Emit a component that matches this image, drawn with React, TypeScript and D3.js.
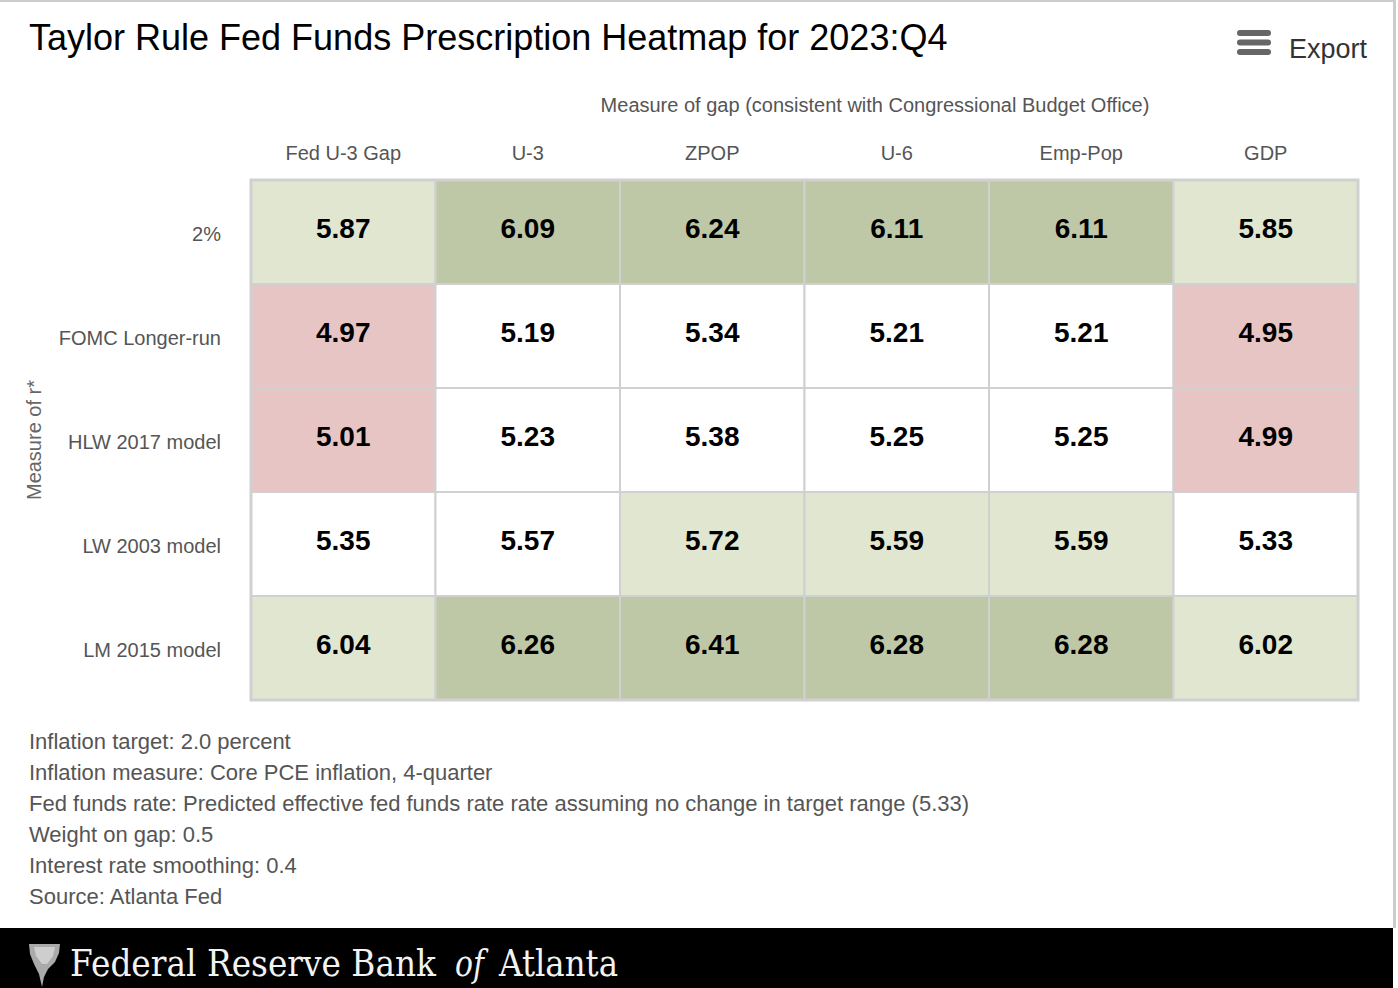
import React from "react";
import * as d3 from "d3";

const gapMeasures = ["Fed U-3 Gap", "U-3", "ZPOP", "U-6", "Emp-Pop", "GDP"];
const rStarMeasures = ["2%", "FOMC Longer-run", "HLW 2017 model", "LW 2003 model", "LM 2015 model"];
const values: number[][] = [
  [5.87, 6.09, 6.24, 6.11, 6.11, 5.85],
  [4.97, 5.19, 5.34, 5.21, 5.21, 4.95],
  [5.01, 5.23, 5.38, 5.25, 5.25, 4.99],
  [5.35, 5.57, 5.72, 5.59, 5.59, 5.33],
  [6.04, 6.26, 6.41, 6.28, 6.28, 6.02],
];
const colorBreaks = [5.08, 5.58, 6.08];
const colorBins = ["#e8c5c5", "#ffffff", "#e1e6d1", "#bfc8a6"];
const notes = [
  "Inflation target: 2.0 percent",
  "Inflation measure: Core PCE inflation, 4-quarter",
  "Fed funds rate: Predicted effective fed funds rate rate assuming no change in target range (5.33)",
  "Weight on gap: 0.5",
  "Interest rate smoothing: 0.4",
  "Source: Atlanta Fed",
];

const W = 1398;
const H = 988;
const font = "'Liberation Sans', Arial, Helvetica, sans-serif";
const serif = "'DejaVu Serif', 'Liberation Serif', serif";

export default function App() {
  const x = d3.scaleBand<string>().domain(gapMeasures).range([251, 1358]).padding(0);
  const y = d3.scaleBand<string>().domain(rStarMeasures).range([180, 700]).padding(0);
  const color = d3.scaleThreshold<number, string>().domain(colorBreaks).range(colorBins);

  return (
    <svg width={W} height={H} style={{ position: "absolute", left: 0, top: 0 }} fontFamily={font}>
      <rect x={0} y={0} width={W} height={H} fill="#fff" />
      {/* container border */}
      <line x1={0} x2={1395} y1={1} y2={1} stroke="#ccc" strokeWidth={2} />
      <line x1={1394.5} x2={1394.5} y1={0} y2={928} stroke="#ccc" strokeWidth={3} />

      <text x={29} y={50} fontSize={36} fill="#000">
        Taylor Rule Fed Funds Prescription Heatmap for 2023:Q4
      </text>

      {/* export */}
      <g fill="#666">
        {[0, 1, 2].map((i) => (
          <rect key={i} x={1237} y={30 + i * 9.5} width={34} height={6} rx={3} />
        ))}
      </g>
      <text x={1289} y={58} fontSize={27} fill="#333">Export</text>

      <text x={875} y={112} fontSize={20} fill="#555" textAnchor="middle">
        Measure of gap (consistent with Congressional Budget Office)
      </text>

      {gapMeasures.map((g) => (
        <text key={g} x={(x(g) as number) + x.bandwidth() / 2} y={160} fontSize={20} fill="#555" textAnchor="middle">
          {g}
        </text>
      ))}

      {rStarMeasures.map((r) => (
        <text key={r} x={221} y={(y(r) as number) + y.bandwidth() / 2 + 9} fontSize={20} fill="#555" textAnchor="end">
          {r}
        </text>
      ))}

      <text transform="translate(41,440) rotate(-90)" fontSize={20} fill="#666" textAnchor="middle">
        Measure of r*
      </text>

      {/* cells */}
      <g>
        {values.map((row, ri) =>
          row.map((v, ci) => {
            const cx = x(gapMeasures[ci]) as number;
            const cy = y(rStarMeasures[ri]) as number;
            return (
              <g key={`${ri}-${ci}`}>
                <rect x={cx} y={cy} width={x.bandwidth()} height={y.bandwidth()} fill={color(v)} stroke="#d0d0d0" strokeWidth={2} />
                <text
                  x={cx + x.bandwidth() / 2}
                  y={cy + y.bandwidth() / 2 + 6}
                  fontSize={28}
                  fontWeight="bold"
                  fill="#000"
                  textAnchor="middle"
                >
                  {v.toFixed(2)}
                </text>
              </g>
            );
          })
        )}
        <rect x={251} y={180} width={1107} height={520} fill="none" stroke="#d0d0d0" strokeWidth={3} />
      </g>

      {notes.map((n, i) => (
        <text key={i} x={29} y={749 + i * 31} fontSize={22} fill="#555">
          {n}
        </text>
      ))}

      {/* footer */}
      <rect x={0} y={928} width={1393} height={60} fill="#000" />
      <g transform="translate(29,944)">
        <path d="M0,0 L31,0 L30,9 L26,18 L19,25 L15,33 L13,43 L10,30 L5,20 L1,10 Z" fill="#aaa" />
        <path d="M5,3 L26,3 L24,12 L18,20 L13,20 L7,12 Z" fill="#ddd" opacity={0.7} />
      </g>
      <text x={70} y={976} fontSize={37} fill="#f2f2f2" fontFamily={serif} textLength={366} lengthAdjust="spacingAndGlyphs">
        Federal Reserve Bank
      </text>
      <text x={455} y={976} fontSize={37} fill="#f2f2f2" fontFamily={serif} fontStyle="italic" textLength={29} lengthAdjust="spacingAndGlyphs">
        of
      </text>
      <text x={499} y={976} fontSize={37} fill="#f2f2f2" fontFamily={serif} textLength={119} lengthAdjust="spacingAndGlyphs">
        Atlanta
      </text>
    </svg>
  );
}
